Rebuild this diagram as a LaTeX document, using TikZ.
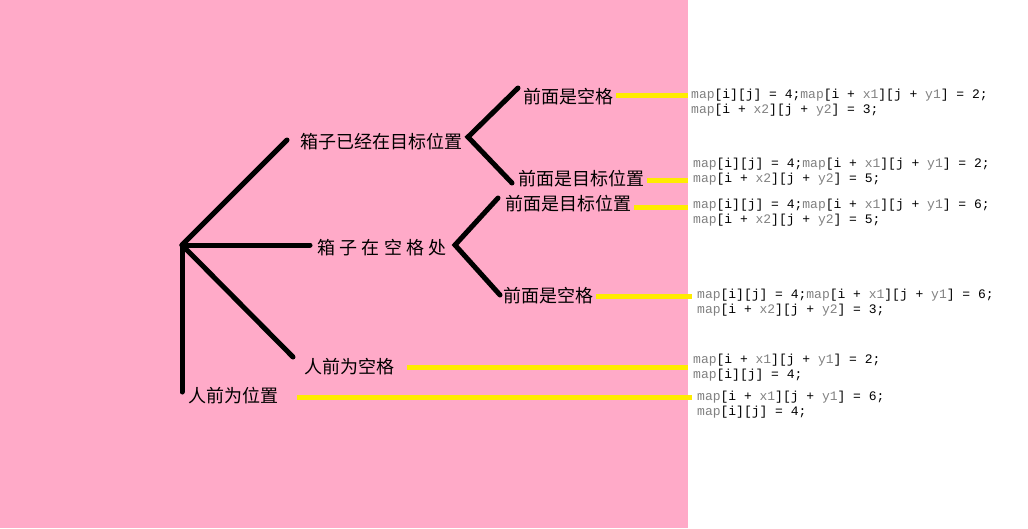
\documentclass[tikz,border=0pt]{standalone}
\usepackage{fontspec}
\setmonofont{Liberation Mono}
\newfontfamily\cjk{Noto Sans CJK SC}
\definecolor{bgpink}{RGB}{255,170,200}
\definecolor{hlyellow}{RGB}{255,236,0}
\definecolor{codegray}{RGB}{128,128,128}
\newcommand\gr[1]{\textcolor{codegray}{#1}}
\tikzset{
  branch/.style={line width=5pt, black, line cap=round},
  link/.style={line width=5pt, hlyellow},
  label/.style={font=\cjk\fontsize{18}{20}\selectfont, inner sep=1pt},
  code/.style={font=\ttfamily\fontsize{13}{15}\selectfont, align=left, anchor=west, inner sep=0pt}
}
\begin{document}
\begin{tikzpicture}[x=1pt,y=-1pt]
  \useasboundingbox (0,0) rectangle (1028,528);
  \fill[bgpink] (0,0) rectangle (688,528);

  % tree
  \coordinate (root) at (182,245);
  \coordinate (base) at (182,392);
  \node[label] (full) at (381,142) {箱子已经在目标位置};
  \node[label] (empty) at (382,248) {箱\ 子\ 在\ 空\ 格\ 处};
  \node[label] (walk) at (349,367) {人前为空格};
  \node[label] (stand) at (233,396) {人前为位置};
  \node[label] (fullA) at (568,97) {前面是空格};
  \node[label] (fullB) at (581,179) {前面是目标位置};
  \node[label] (emptyA) at (568,204) {前面是目标位置};
  \node[label] (emptyB) at (548,296) {前面是空格};

  \draw[branch] (base) -- (root);
  \draw[branch] (root) -- (287,140);
  \draw[branch] (root) -- (310,245);
  \draw[branch] (root) -- (293,357);
  \draw[branch] (518,88) -- (468,137) -- (512,183);
  \draw[branch] (498,198) -- (455,245) -- (500,295);

  % results
  \node[code] (codeA) at (691,103) {\gr{map}[i][j] = 4;\gr{map}[i + \gr{x1}][j + \gr{y1}] = 2;\\\gr{map}[i + \gr{x2}][j + \gr{y2}] = 3;};
  \node[code] (codeB) at (693,172) {\gr{map}[i][j] = 4;\gr{map}[i + \gr{x1}][j + \gr{y1}] = 2;\\\gr{map}[i + \gr{x2}][j + \gr{y2}] = 5;};
  \node[code] (codeC) at (693,213) {\gr{map}[i][j] = 4;\gr{map}[i + \gr{x1}][j + \gr{y1}] = 6;\\\gr{map}[i + \gr{x2}][j + \gr{y2}] = 5;};
  \node[code] (codeD) at (697,303) {\gr{map}[i][j] = 4;\gr{map}[i + \gr{x1}][j + \gr{y1}] = 6;\\\gr{map}[i + \gr{x2}][j + \gr{y2}] = 3;};
  \node[code] (codeE) at (693,368) {\gr{map}[i + \gr{x1}][j + \gr{y1}] = 2;\\\gr{map}[i][j] = 4;};
  \node[code] (codeF) at (697,405) {\gr{map}[i + \gr{x1}][j + \gr{y1}] = 6;\\\gr{map}[i][j] = 4;};

  \draw[link] (fullA.east) ++(2,-2) -- (688,95);
  \draw[link] (fullB.east) ++(2,1) -- (688,180);
  \draw[link] (emptyA.east) ++(2,3) -- (688,207);
  \draw[link] (emptyB.east) ++(2,0) -- (692,296);
  \draw[link] (walk.east) ++(12,0) -- (688,367);
  \draw[link] (stand.east) ++(18,1) -- (692,397);
\end{tikzpicture}
\end{document}
